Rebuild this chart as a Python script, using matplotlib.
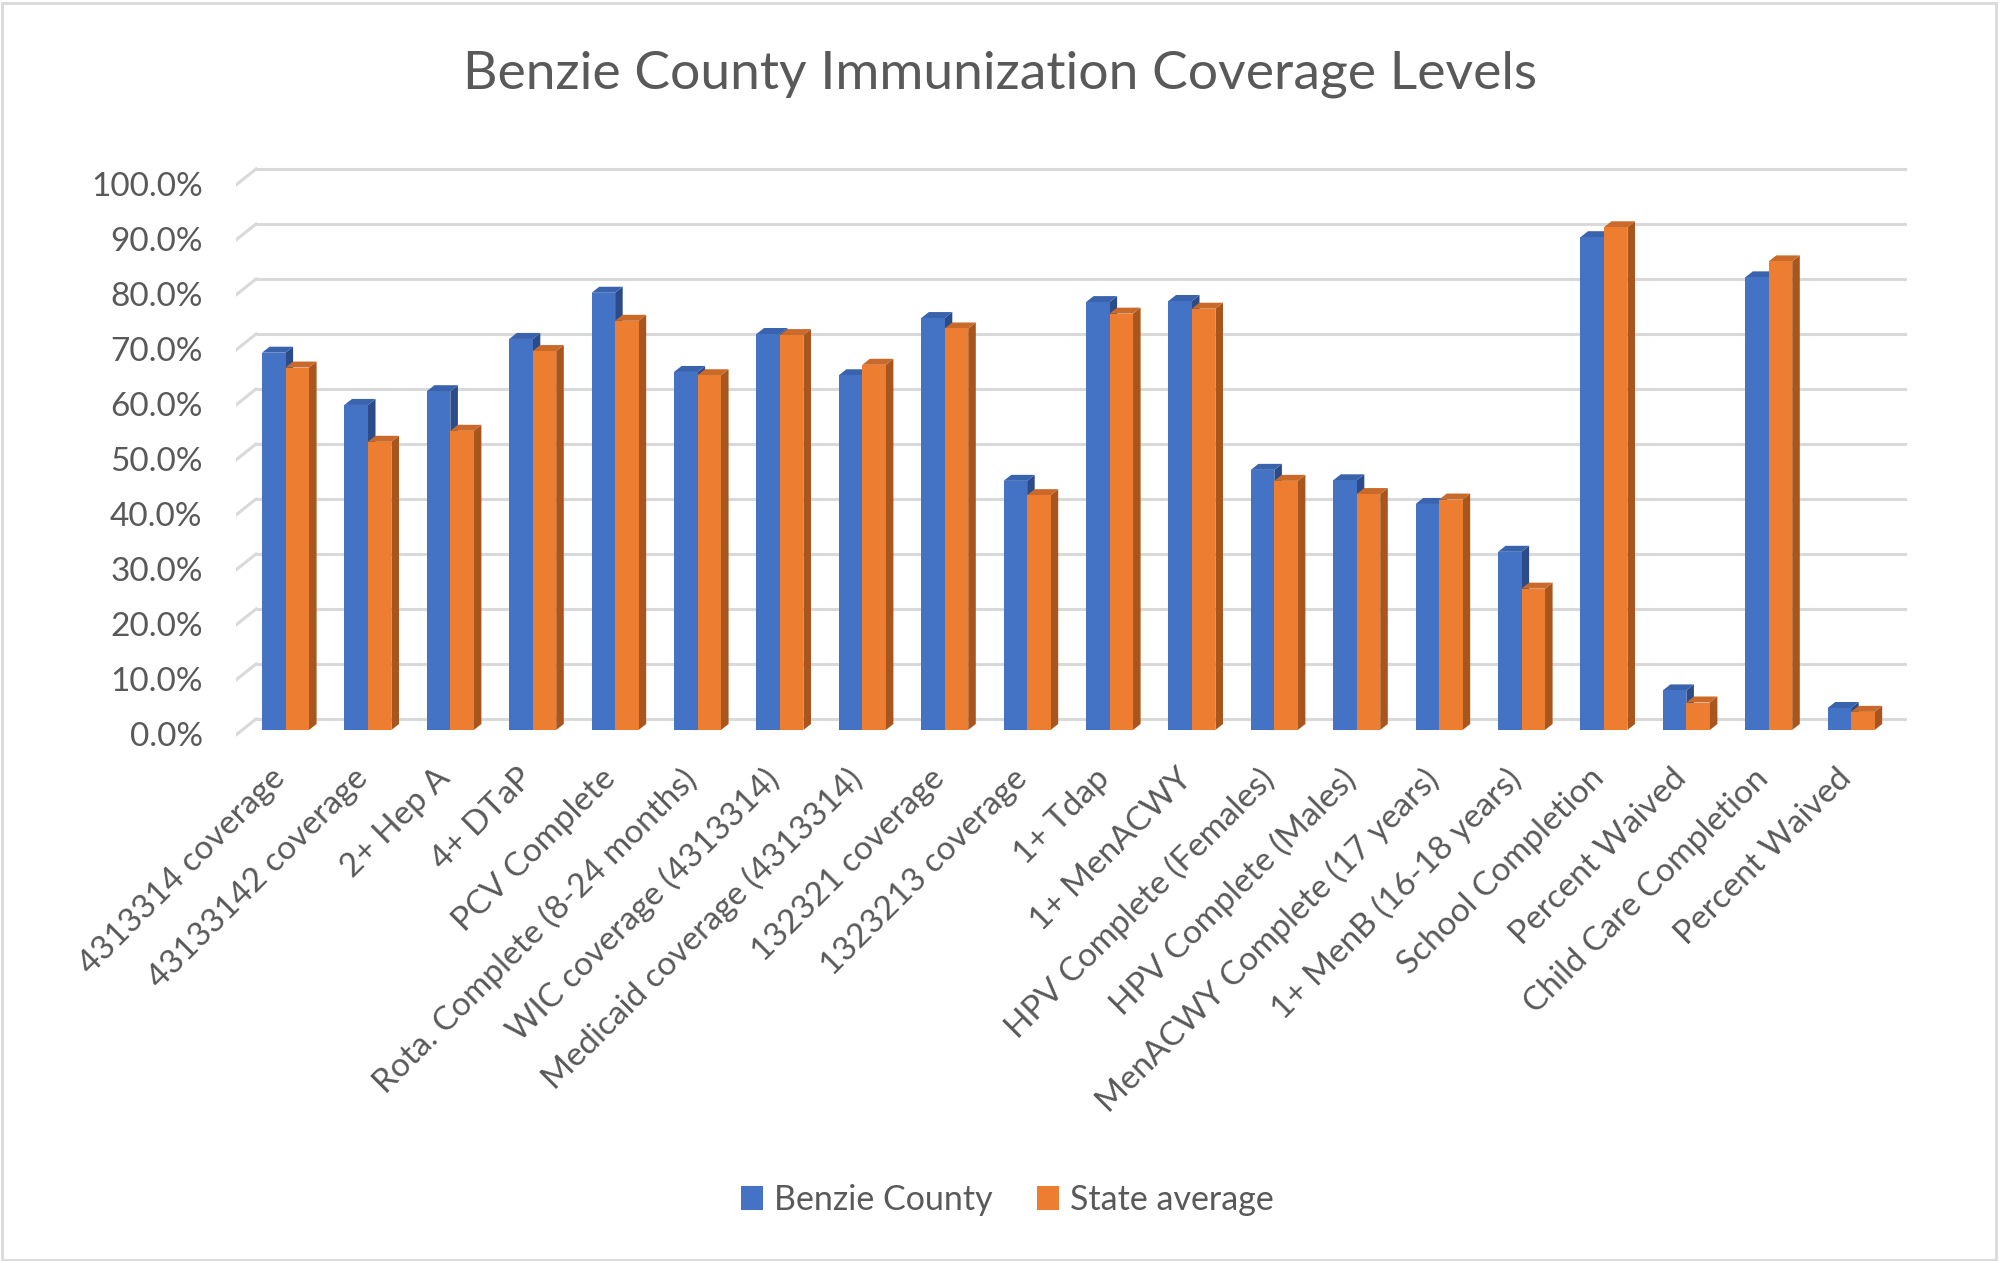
import matplotlib
matplotlib.use("Agg")
import matplotlib.pyplot as plt
import matplotlib.transforms as mtransforms
from matplotlib.patches import Polygon, Rectangle, Patch
import numpy as np

plt.rcParams['font.family'] = ['Lato', 'DejaVu Sans']

title = "Benzie County Immunization Coverage Levels"
categories = [
    "4313314 coverage", "43133142 coverage", "2+ Hep A", "4+ DTaP", "PCV Complete",
    "Rota. Complete (8-24 months)", "WIC coverage (4313314)", "Medicaid coverage (4313314)",
    "132321 coverage", "1323213 coverage", "1+ Tdap", "1+ MenACWY",
    "HPV Complete (Females)", "HPV Complete (Males)", "MenACWY Complete (17 years)",
    "1+ MenB (16-18 years)", "School Completion", "Percent Waived",
    "Child Care Completion", "Percent Waived",
]
benzie = [68.6, 59.1, 61.6, 71.1, 79.5, 65.1, 72.0, 64.5, 74.9, 45.3,
          77.8, 78.0, 47.3, 45.4, 41.1, 32.4, 89.6, 7.2, 82.3, 4.0]
state = [65.9, 52.4, 54.4, 68.9, 74.4, 64.5, 71.8, 66.4, 73.0, 42.7,
         75.7, 76.6, 45.3, 42.9, 41.9, 25.7, 91.4, 5.0, 85.2, 3.3]
series_names = ["Benzie County", "State average"]
yticks = [0, 10, 20, 30, 40, 50, 60, 70, 80, 90, 100]
ytick_labels = [f"{v:.1f}%" for v in yticks]

colors_front = ["#4472C4", "#ED7D31"]
colors_side = ["#2B4C88", "#A9561E"]
colors_top = ["#3A63AD", "#C9692A"]
text_color = "#595959"
grid_color = "#D9D9D9"

W, H = 2000, 1261
fig = plt.figure(figsize=(W / 100, H / 100), dpi=100)
fig.patch.set_facecolor("white")

# axes placement (pixels)
ax_left, ax_right = 236, 1907
ax_top, ax_bottom = 163.5, 741
ax = fig.add_axes([ax_left / W, 1 - ax_bottom / H, (ax_right - ax_left) / W, (ax_bottom - ax_top) / H])
ax.set_xlim(-0.601, 19.678)
ax.set_ylim(-2, 103)
for s in ax.spines.values():
    s.set_visible(False)
ax.set_facecolor("none")

# depth parameters (data units)
wall_dx, wall_dy = 0.243, 2.9     # side wall front->back
back_shift_y = 2.0                 # back wall gridline vertical offset
back_x0 = -0.358
bar_dx, bar_dy = 0.092, 1.09       # bar depth
bw = 0.285

# back wall gridlines and side wall diagonals
for v in yticks:
    yb = v + back_shift_y
    ax.plot([back_x0, 19.678], [yb, yb], color=grid_color, lw=2.2, zorder=0, solid_capstyle='butt')
    ax.plot([back_x0 - wall_dx, back_x0], [yb - wall_dy, yb], color=grid_color, lw=2.2, zorder=0)

x = np.arange(len(categories))
for s_idx, vals in enumerate([benzie, state]):
    lefts = x - bw if s_idx == 0 else x
    ax.bar(lefts, vals, width=bw, align='edge', color=colors_front[s_idx],
           zorder=3 + 2 * s_idx, linewidth=0)
    for xl, v in zip(lefts, vals):
        xr = xl + bw
        side = Polygon([(xr, 0), (xr + bar_dx, bar_dy), (xr + bar_dx, v + bar_dy), (xr, v)],
                       closed=True, facecolor=colors_side[s_idx], edgecolor='none', zorder=2 + 2 * s_idx)
        top = Polygon([(xl, v), (xl + bar_dx, v + bar_dy), (xr + bar_dx, v + bar_dy), (xr, v)],
                      closed=True, facecolor=colors_top[s_idx], edgecolor='none', zorder=2 + 2 * s_idx)
        ax.add_patch(side)
        ax.add_patch(top)

ax.set_yticks(np.array(yticks) - 0.7)
ax.set_yticklabels(ytick_labels)
ax.tick_params(axis='y', length=0, pad=24, labelsize=24, labelcolor=text_color)
ax.set_xticks(x)
ax.set_xticklabels(categories, rotation=45, ha='right', va='top')
ax.tick_params(axis='x', length=0, pad=16, labelsize=24, labelcolor=text_color)
offset = mtransforms.ScaledTranslation(6 / 100, 0, fig.dpi_scale_trans)
for lab in ax.get_xticklabels():
    lab.set_transform(lab.get_transform() + offset)

fig.text(0.5, 1 - 74 / H, title, ha='center', va='center', fontsize=38.5, color=text_color)

handles = [Patch(facecolor=c, edgecolor='none') for c in colors_front]
fig.legend(handles, series_names, loc='center', bbox_to_anchor=(0.5035, 1 - 1200 / H),
           ncol=2, frameon=False, fontsize=24.5, labelcolor=text_color,
           handlelength=0.67, handleheight=0.67, handletextpad=0.3, columnspacing=1.3)

fig.patches.append(Rectangle((0.001, 0.001), 0.997, 0.997, transform=fig.transFigure,
                             fill=False, edgecolor=grid_color, lw=2))

fig.savefig("out.png", dpi=100)
